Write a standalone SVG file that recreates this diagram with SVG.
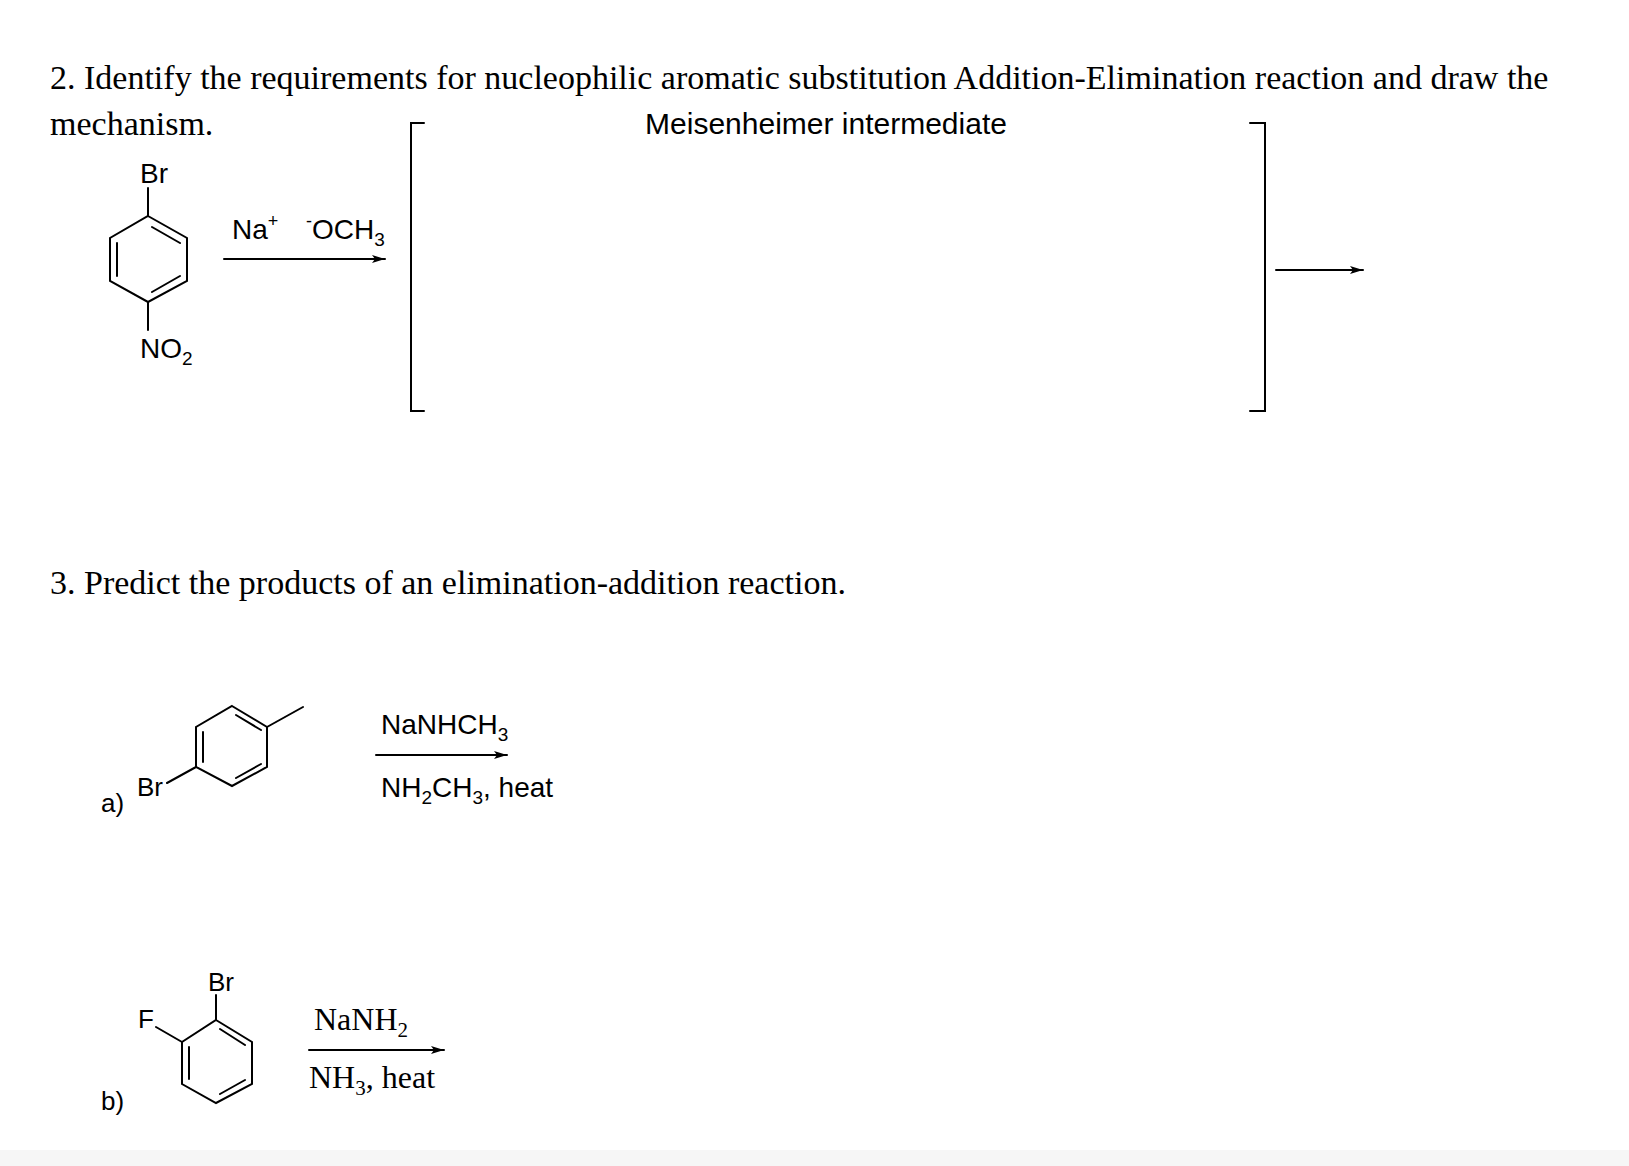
<svg xmlns="http://www.w3.org/2000/svg" width="1629" height="1166" viewBox="0 0 1629 1166">
<defs>
<marker id="ah" markerWidth="13" markerHeight="8" refX="13" refY="4" orient="auto" markerUnits="userSpaceOnUse"><path d="M0,0 L13,4 L0,8 L3,4 Z" fill="#000"/></marker>
<style>
.b{stroke:#000;stroke-width:2;fill:none;stroke-linecap:round}
.s{font-family:"Liberation Sans",Arial,sans-serif;fill:#000}
.t{font-family:"Liberation Serif","Times New Roman",serif;fill:#000}
</style>
</defs>
<rect width="1629" height="1166" fill="#fff"/>
<rect x="0" y="1150" width="1629" height="16" fill="#f6f6f6"/>
<text class="t" x="50" y="89" font-size="34">2. Identify the requirements for nucleophilic aromatic substitution Addition-Elimination reaction and draw the</text>
<text class="t" x="50" y="135" font-size="34">mechanism.</text>
<text class="s" x="826" y="134" font-size="30" text-anchor="middle">Meisenheimer intermediate</text>
<text class="t" x="50" y="594" font-size="34">3. Predict the products of an elimination-addition reaction.</text>
<g id="mol1">
<path class="b" d="M148,216 L187,238 L187,281 L148,302 L110,281 L110,238 Z M148,216 V188 M148,302 V330 M152,227 L180,243 M117,243 V276 M180,276 L152,292"/>
<text class="s" x="154" y="183" font-size="28" text-anchor="middle">Br</text>
<text class="s" x="140" y="358" font-size="28">NO<tspan font-size="19" dy="7">2</tspan></text>
</g>
<g id="reag1">
<text class="s" x="232" y="239" font-size="28">Na<tspan font-size="18" dy="-12">+</tspan></text>
<text class="s" x="306" y="239" font-size="28"><tspan font-size="18" dy="-12">-</tspan><tspan dy="12">OCH</tspan><tspan font-size="19" dy="7">3</tspan></text>
</g>
<g id="brackets">
<path class="b" d="M424,123 H411 V411 H424 M1250,123 H1265 V411 H1250"/>
</g>
<g id="mola">
<path class="b" d="M232,706 L267,727 L267,767 L232,786 L196,767 L196,727 Z M267,727 L303,707 M196,767 L167,783 M203,732 V762 M236,715 L261,730 M261,764 L236,778"/>
<text class="s" x="137" y="796" font-size="26">Br</text>
<text class="s" x="101" y="812" font-size="26">a)</text>
</g>
<g id="molb">
<path class="b" d="M216,1020 L252,1042 L252,1084 L216,1103 L182,1084 L182,1042 Z M216,1020 V995 M182,1042 L156,1027 M189,1047 V1079 M220,1029 L245,1045 M245,1080 L220,1094"/>
<text class="s" x="221" y="991" font-size="26" text-anchor="middle">Br</text>
<text class="s" x="138" y="1028" font-size="26">F</text>
<text class="s" x="101" y="1110" font-size="26">b)</text>
</g>
<g id="connectors">
<line class="b" x1="224" y1="259" x2="385" y2="259" marker-end="url(#ah)"/>
<line class="b" x1="1276" y1="270" x2="1363" y2="270" marker-end="url(#ah)"/>
<line class="b" x1="376" y1="755" x2="507" y2="755" marker-end="url(#ah)"/>
<line class="b" x1="309" y1="1050" x2="444" y2="1050" marker-end="url(#ah)"/>
</g>
<g id="labels">
<text class="s" x="381" y="734" font-size="28">NaNHCH<tspan font-size="19" dy="7">3</tspan></text>
<text class="s" x="381" y="797" font-size="28">NH<tspan font-size="19" dy="7">2</tspan><tspan dy="-7">CH</tspan><tspan font-size="19" dy="7">3</tspan><tspan dy="-7">, heat</tspan></text>
<text class="t" x="314" y="1030" font-size="32">NaNH<tspan font-size="21" dy="7">2</tspan></text>
<text class="t" x="309" y="1088" font-size="32">NH<tspan font-size="21" dy="7">3</tspan><tspan dy="-7">, heat</tspan></text>
</g>
</svg>
